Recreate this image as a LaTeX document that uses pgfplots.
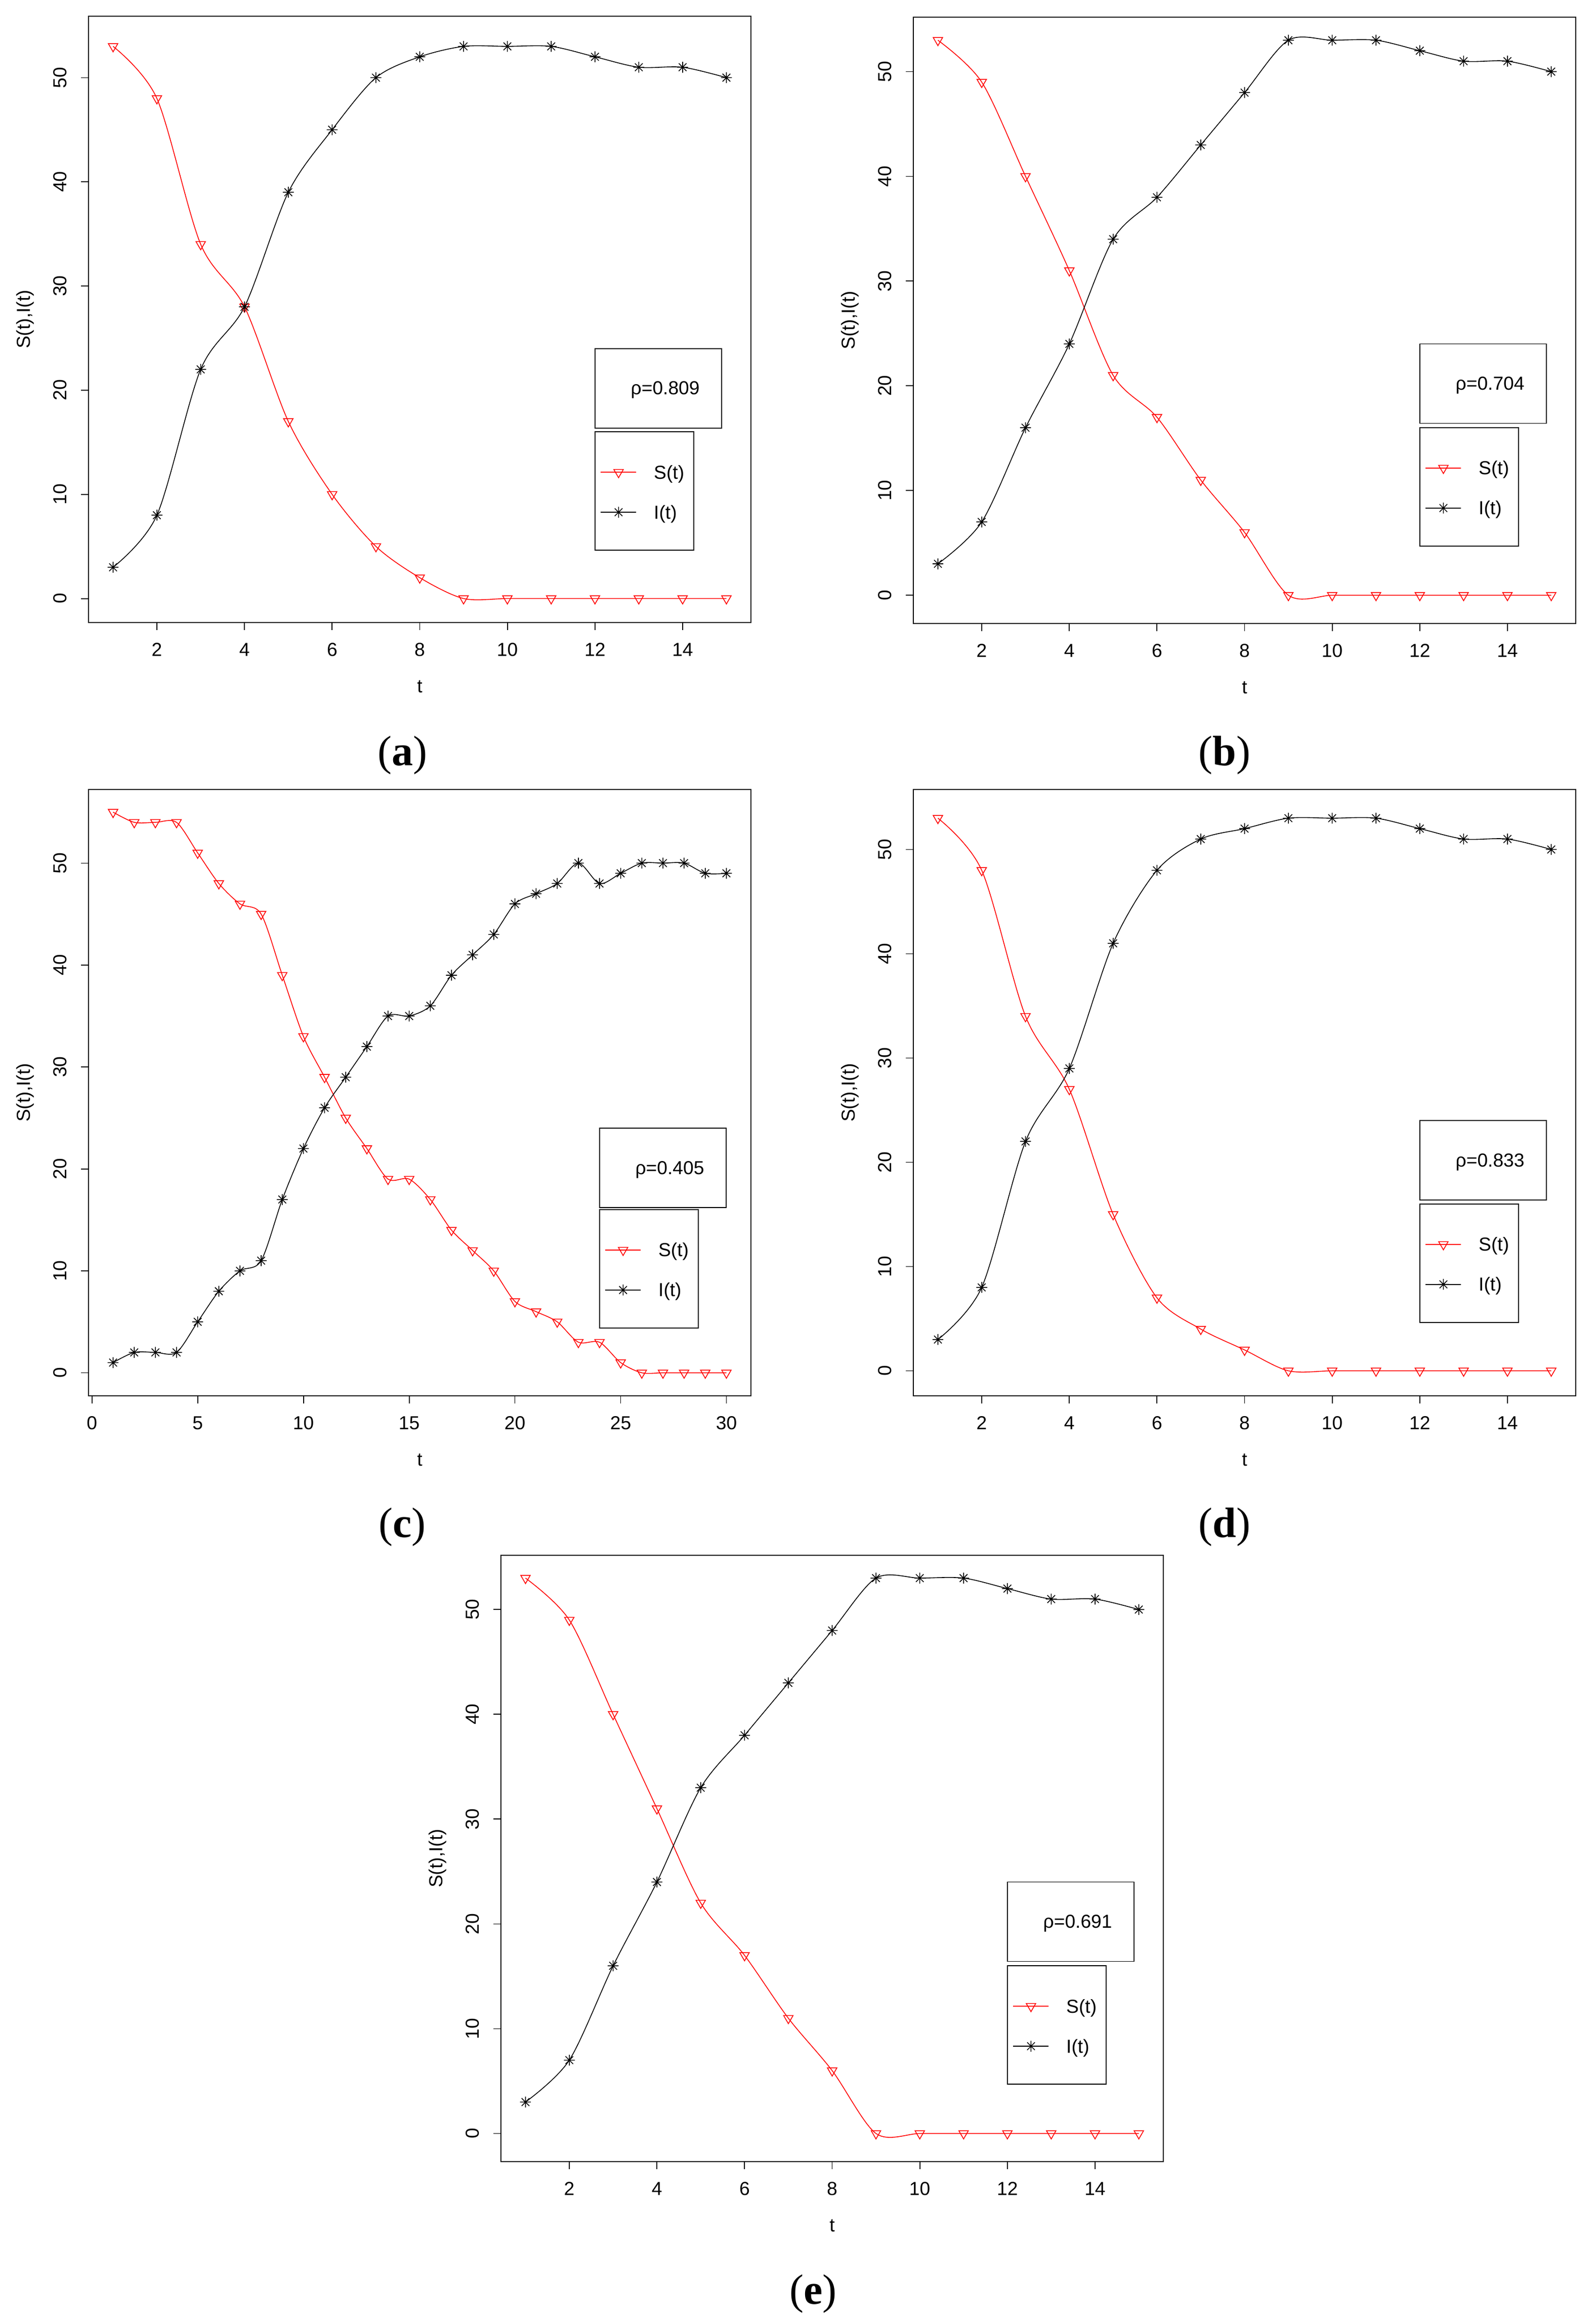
\documentclass[border=0pt]{standalone}
\usepackage{fontspec}
\setmainfont{Liberation Sans}
\newfontfamily\capfont{Liberation Serif}
\usepackage{pgfplots}
\usepackage{pgfplotstable}
\pgfplotsset{compat=1.18}

\pgfdeclareplotmark{rast}{%
  \pgfpathmoveto{\pgfqpoint{-\pgfplotmarksize}{-\pgfplotmarksize}}%
  \pgfpathlineto{\pgfqpoint{\pgfplotmarksize}{\pgfplotmarksize}}%
  \pgfpathmoveto{\pgfqpoint{-\pgfplotmarksize}{\pgfplotmarksize}}%
  \pgfpathlineto{\pgfqpoint{\pgfplotmarksize}{-\pgfplotmarksize}}%
  \pgfpathmoveto{\pgfqpoint{-1.414\pgfplotmarksize}{0pt}}%
  \pgfpathlineto{\pgfqpoint{1.414\pgfplotmarksize}{0pt}}%
  \pgfpathmoveto{\pgfqpoint{0pt}{-1.414\pgfplotmarksize}}%
  \pgfpathlineto{\pgfqpoint{0pt}{1.414\pgfplotmarksize}}%
  \pgfusepathqstroke}

\pgfplotstableread{
t S I
1 53 3
2 48 8
3 34 22
4 28 28
5 17 39
6 10 45
7 5 50
8 2 52
9 0 53
10 0 53
11 0 53
12 0 52
13 0 51
14 0 51
15 0 50
}\dataA

\pgfplotstableread{
t S I
1 53 3
2 49 7
3 40 16
4 31 24
5 21 34
6 17 38
7 11 43
8 6 48
9 0 53
10 0 53
11 0 53
12 0 52
13 0 51
14 0 51
15 0 50
}\dataB

\pgfplotstableread{
t S I
1 55 1
2 54 2
3 54 2
4 54 2
5 51 5
6 48 8
7 46 10
8 45 11
9 39 17
10 33 22
11 29 26
12 25 29
13 22 32
14 19 35
15 19 35
16 17 36
17 14 39
18 12 41
19 10 43
20 7 46
21 6 47
22 5 48
23 3 50
24 3 48
25 1 49
26 0 50
27 0 50
28 0 50
29 0 49
30 0 49
}\dataC

\pgfplotstableread{
t S I
1 53 3
2 48 8
3 34 22
4 27 29
5 15 41
6 7 48
7 4 51
8 2 52
9 0 53
10 0 53
11 0 53
12 0 52
13 0 51
14 0 51
15 0 50
}\dataD

\pgfplotstableread{
t S I
1 53 3
2 49 7
3 40 16
4 31 24
5 22 33
6 17 38
7 11 43
8 6 48
9 0 53
10 0 53
11 0 53
12 0 52
13 0 51
14 0 51
15 0 50
}\dataE

\newcommand{\rfont}{\fontsize{9.3}{11}\selectfont}

\pgfplotsset{
  rpanel/.style={
    scale only axis, width=327.25pt, height=299.5pt,
    anchor=south west,
    axis line style={line width=0.45pt},
    tick align=outside, tick pos=left,
    major tick length=3.75pt,
    every tick/.style={black, line width=0.45pt},
    ytick={0,10,20,30,40,50},
    /pgf/number format/assume math mode=true,
    ticklabel style={font=\rfont, inner sep=0pt},
    xticklabel style={anchor=north},
    yticklabel style={rotate=90, anchor=south},
    xticklabel shift=6.25pt, yticklabel shift=6.75pt,
    xlabel={t}, ylabel={S(t),I(t)},
    label style={font=\rfont},
    xlabel style={at={([yshift=-31.75pt]axis description cs:0.5,0)}, anchor=center},
    ylabel style={at={([xshift=-31.25pt]axis description cs:0,0.5)}, anchor=center},
    legend cell align=left,
    legend image code/.code={\draw[mark repeat=2,mark phase=2] plot coordinates {(0pt,0pt)(8.75pt,0pt)(17.5pt,0pt)};},
    legend style={draw=none, fill=none, inner sep=0pt, row sep=11.25pt, column sep=8.5pt,
       anchor=north west, font=\rfont,
       nodes={inner sep=0pt, text height=7.5pt, text depth=1pt}},
  },
  Sline/.style={red, line width=0.4pt, smooth, mark=triangle, mark size=2.7pt,
     mark options={rotate=180, solid, line width=0.4pt}},
  Iline/.style={black, line width=0.4pt, smooth, mark=rast, mark size=1.9pt,
     mark options={solid, line width=0.4pt}},
}

% legend boxes: #1 = x of top-left corner (axis units), #2 = rho text
\newcommand{\rlegend}[2]{%
  \draw[line width=0.45pt] (axis cs:#1,16) rectangle ([xshift=48.75pt, yshift=-58.5pt]axis cs:#1,16);
  \draw[line width=0.45pt] (axis cs:#1,24) rectangle ([xshift=62.5pt, yshift=-39.25pt]axis cs:#1,24);
  \node[anchor=west, inner sep=0pt, text height=6.5pt, text depth=0pt, font=\rfont]
     at ([xshift=17.5pt, yshift=-19.6pt]axis cs:#1,24) {#2};
}

\begin{document}
\begin{tikzpicture}
\useasboundingbox (0pt,0pt) rectangle (788.5pt,1146.5pt);

% (a)
\begin{axis}[rpanel, at={(43.75pt,839pt)},
  xmin=0.44, xmax=15.56, ymin=-2.3, ymax=55.9, xtick={2,4,...,14},
  legend style={at={([xshift=2.5pt,yshift=-15.5pt]axis description cs:0.76455,0.31443)}}]
\addplot[Sline] table[x=t,y=S] {\dataA};
\addplot[Iline] table[x=t,y=I] {\dataA};
\legend{S(t),I(t)}
\rlegend{12}{ρ=0.809}
\end{axis}

% (b)
\begin{axis}[rpanel, at={(451.25pt,838.5pt)},
  xmin=0.44, xmax=15.56, ymin=-2.7, ymax=55.2, xtick={2,4,...,14},
  legend style={at={([xshift=2.5pt,yshift=-15.5pt]axis description cs:0.76455,0.32297)}}]
\addplot[Sline] table[x=t,y=S] {\dataB};
\addplot[Iline] table[x=t,y=I] {\dataB};
\legend{S(t),I(t)}
\rlegend{12}{ρ=0.704}
\end{axis}

% (c)
\begin{axis}[rpanel, at={(43.75pt,457pt)},
  xmin=-0.16, xmax=31.16, ymin=-2.26, ymax=57.22, xtick={0,5,...,30},
  legend style={at={([xshift=2.5pt,yshift=-15.5pt]axis description cs:0.77139,0.30700)}}]
\addplot[Sline] table[x=t,y=S] {\dataC};
\addplot[Iline] table[x=t,y=I] {\dataC};
\legend{S(t),I(t)}
\rlegend{24}{ρ=0.405}
\end{axis}

% (d)
\begin{axis}[rpanel, at={(451.25pt,457pt)},
  xmin=0.44, xmax=15.56, ymin=-2.4, ymax=55.75, xtick={2,4,...,14},
  legend style={at={([xshift=2.5pt,yshift=-15.5pt]axis description cs:0.76455,0.31642)}}]
\addplot[Sline] table[x=t,y=S] {\dataD};
\addplot[Iline] table[x=t,y=I] {\dataD};
\legend{S(t),I(t)}
\rlegend{12}{ρ=0.833}
\end{axis}

% (e)
\begin{axis}[rpanel, at={(247.5pt,78.75pt)},
  xmin=0.44, xmax=15.56, ymin=-2.68, ymax=55.18, xtick={2,4,...,14},
  legend style={at={([xshift=2.5pt,yshift=-15.5pt]axis description cs:0.76455,0.32285)}}]
\addplot[Sline] table[x=t,y=S] {\dataE};
\addplot[Iline] table[x=t,y=I] {\dataE};
\legend{S(t),I(t)}
\rlegend{12}{ρ=0.691}
\end{axis}

% sub-figure captions
\begin{scope}[every node/.style={font=\capfont\fontsize{21}{25}\selectfont, inner sep=0pt}]
\node at (198.75pt,773.5pt) {(\textbf{a})};
\node at (605pt,773.5pt) {(\textbf{b})};
\node at (198.75pt,392.25pt) {(\textbf{c})};
\node at (605pt,392.25pt) {(\textbf{d})};
\node at (401.75pt,13.5pt) {(\textbf{e})};
\end{scope}
\end{tikzpicture}
\end{document}
